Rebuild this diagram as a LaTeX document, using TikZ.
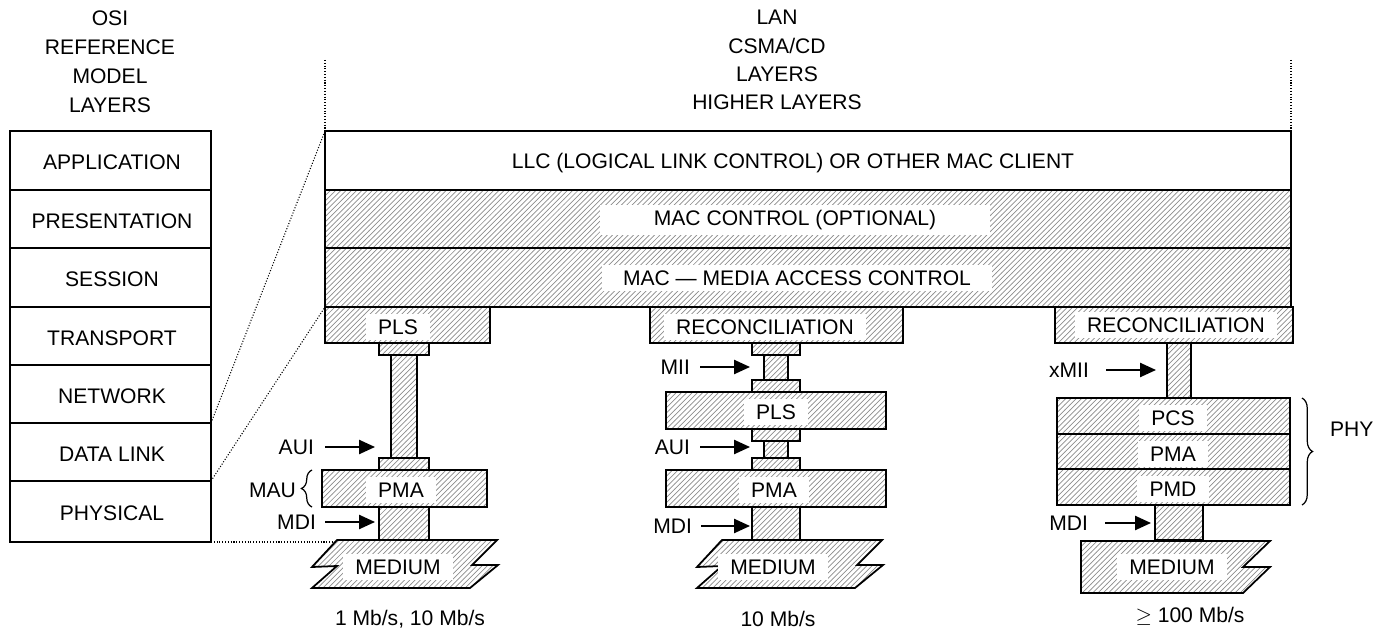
\documentclass[tikz,border=0pt]{standalone}
\usepackage{fontspec}
\setmainfont{Liberation Sans}
\usetikzlibrary{patterns,arrows.meta,decorations.pathreplacing}
\tikzset{
  hatch/.style={draw=black, line width=1pt, pattern=north east lines, pattern color=black!45},
  plain/.style={draw=black, line width=1pt, fill=white},
  lbl/.style={font=\fontsize{12}{14}\selectfont, inner sep=1pt},
  tag/.style={lbl, fill=white, inner xsep=7pt, inner ysep=3pt},
  osi/.style={lbl},
  arrow/.style={line width=1pt, -{Triangle[length=9pt,width=8pt]}},
  guide/.style={densely dotted, line width=0.6pt},
  brace/.style={line width=0.7pt, decorate, decoration={brace, amplitude=6pt}}
}
\begin{document}
\begin{tikzpicture}[x=0.02cm, y=-0.02cm]
	\useasboundingbox (0,0) rectangle (1383,642);
	
	% OSI column
	\foreach \ya/\yb/\name/\txt in {131/190/app/APPLICATION, 190/248/pres/PRESENTATION, 248/307/sess/SESSION, 307/365/trans/TRANSPORT, 365/423/net/NETWORK, 423/481/dlink/DATA LINK, 481/542/phys/PHYSICAL}{
		\draw[plain] (10,\ya) rectangle (211,\yb);
		\node (\name) [osi] at (112,{(\ya+\yb)/2+2}) {\txt};
	}
	\node (osihead) [lbl, align=center] at (110,62) {OSI\\[2.5pt]REFERENCE\\[2.5pt]MODEL\\[2.5pt]LAYERS};
	\node (lanhead) [lbl, align=center] at (777,60) {LAN\\[2pt]CSMA/CD\\[2pt]LAYERS\\[2pt]HIGHER LAYERS};
	
	% guide lines
	\draw[guide] (325,60) -- (325,131);
	\draw[guide] (1291,60) -- (1291,131);
	\draw[guide] (211,423) -- (325,131);
	\draw[guide] (211,481) -- (325,307);
	\draw[guide] (211,542) -- (335,542);
	
	% MAC layers
	\draw[plain] (325,131) rectangle (1291,190);
	\node (llc) [lbl] at (793,163) {LLC (LOGICAL LINK CONTROL) OR OTHER MAC CLIENT};
	\draw[hatch] (325,190) rectangle (1291,248);
	\node (macctl) [tag, minimum width=390*0.02cm] at (795,220) {MAC CONTROL (OPTIONAL)};
	\draw[hatch] (325,248) rectangle (1291,307);
	\node (mac) [tag, minimum width=390*0.02cm] at (797,278) {MAC --- MEDIA ACCESS CONTROL};
	
	% 1 Mb/s, 10 Mb/s
	\draw[hatch] (325,307) rectangle (490,343);
	\node (pls1) [tag] at (398,327) {PLS};
	\draw[hatch] (379,343) rectangle (429,355);
	\draw[hatch] (391,355) rectangle (417,458);
	\draw[hatch] (379,458) rectangle (429,470);
	\draw[hatch] (322,470) rectangle (487,507);
	\node (pma1) [tag] at (401,490) {PMA};
	\draw[hatch] (379,507) rectangle (429,540);
	\draw[hatch] (337,540) -- (497,540) -- (472,565) -- (498,565) -- (470,588) -- (312,588) -- (337,566) -- (312,567) -- cycle;
	\node (med1) [tag] at (398,567) {MEDIUM};
	\node (rate1) [lbl] at (410,619) {1 Mb/s, 10 Mb/s};
	\node (aui1) [lbl, anchor=east] at (316,447) {AUI};
	\coordinate (aui1end) at (375,447);
	\draw[arrow] (aui1.east) ++(9,0) -- (aui1end);
	\node (mdi1) [lbl, anchor=east] at (318,522) {MDI};
	\coordinate (mdi1end) at (375,522);
	\draw[arrow] (mdi1.east) ++(7,0) -- (mdi1end);
	\draw[brace] (312,507) -- (312,470);
	\node (mau) [lbl, anchor=east] at (298,490) {MAU};
	
	% 10 Mb/s
	\draw[hatch] (650,307) rectangle (903,343);
	\node (rec2) [tag] at (765,327) {RECONCILIATION};
	\draw[hatch] (752,343) rectangle (800,355);
	\draw[hatch] (764,355) rectangle (788,380);
	\draw[hatch] (752,380) rectangle (800,392);
	\draw[hatch] (666,392) rectangle (886,429);
	\node (pls2) [tag] at (776,412) {PLS};
	\draw[hatch] (752,429) rectangle (800,441);
	\draw[hatch] (764,441) rectangle (788,458);
	\draw[hatch] (752,458) rectangle (800,470);
	\draw[hatch] (666,470) rectangle (886,507);
	\node (pma2) [tag] at (774,490) {PMA};
	\draw[hatch] (752,507) rectangle (800,540);
	\draw[hatch] (722,540) -- (882,540) -- (857,565) -- (883,565) -- (855,588) -- (697,588) -- (722,566) -- (697,567) -- cycle;
	\node (med2) [tag] at (773,567) {MEDIUM};
	\node (rate2) [lbl] at (778,619) {10 Mb/s};
	\node (mii) [lbl, anchor=east] at (692,367) {MII};
	\coordinate (miiend) at (750,367);
	\draw[arrow] (mii.east) ++(8,0) -- (miiend);
	\node (aui2) [lbl, anchor=east] at (692,447) {AUI};
	\coordinate (aui2end) at (750,447);
	\draw[arrow] (aui2.east) ++(8,0) -- (aui2end);
	\node (mdi2) [lbl, anchor=east] at (694,526) {MDI};
	\coordinate (mdi2end) at (750,526);
	\draw[arrow] (mdi2.east) ++(7,0) -- (mdi2end);
	
	% >= 100 Mb/s
	\draw[hatch] (1055,307) rectangle (1293,343);
	\node (rec3) [tag] at (1176,325) {RECONCILIATION};
	\draw[hatch] (1167,343) rectangle (1191,398);
	\draw[hatch] (1057,398) rectangle (1290,434);
	\node (pcs) [tag] at (1173,418) {PCS};
	\draw[hatch] (1057,434) rectangle (1290,469);
	\node (pma3) [tag] at (1173,454) {PMA};
	\draw[hatch] (1057,469) rectangle (1290,505);
	\node (pmd) [tag] at (1173,489) {PMD};
	\draw[hatch] (1155,505) rectangle (1203,540);
	\draw[hatch] (1081,541) -- (1270,541) -- (1243,567) -- (1270,567) -- (1243,593) -- (1081,593) -- cycle;
	\node (med3) [tag] at (1172,567) {MEDIUM};
	\node (rate3) [lbl] at (1190,616) {$\geq$ 100 Mb/s};
	\node (xmii) [lbl, anchor=east] at (1091,370) {xMII};
	\coordinate (xmiiend) at (1156,370);
	\draw[arrow] (xmii.east) ++(15,0) -- (xmiiend);
	\node (mdi3) [lbl, anchor=east] at (1090,523) {MDI};
	\coordinate (mdi3end) at (1151,523);
	\draw[arrow] (mdi3.east) ++(15,0) -- (mdi3end);
	\draw[brace] (1302,398) -- (1302,505);
	\node (phy) [lbl, anchor=west] at (1328,429) {PHY};
\end{tikzpicture}
\end{document}
